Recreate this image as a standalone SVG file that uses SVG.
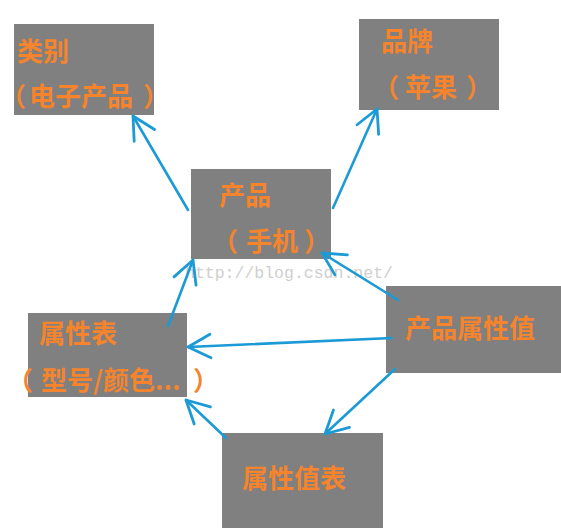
<svg xmlns="http://www.w3.org/2000/svg" width="561" height="528" viewBox="0 0 561 528">
<style>
.box{fill:#808080}
.t{font-family:"Noto Sans CJK SC","Microsoft YaHei",sans-serif;font-weight:bold;font-size:26px;fill:#f5842c}
.c{stroke:#1b9ad6;stroke-width:2.6;fill:none;stroke-linecap:round}
.wm{font-family:"Liberation Mono",monospace;font-size:16.5px;fill:#c4c4c4;opacity:0.8}
</style>
<defs>
<marker id="ah" markerUnits="userSpaceOnUse" orient="auto" refX="0" refY="0" markerWidth="30" markerHeight="30" viewBox="-24 -14 28 28" overflow="visible">
<path d="M-21,-11 L0,0 L-21,11" fill="none" stroke="#1b9ad6" stroke-width="2.6" stroke-linecap="round" stroke-linejoin="round"/>
</marker>
</defs>
<rect width="561" height="528" fill="#fff"/>
<g id="category">
<rect class="box" x="14" y="24" width="140" height="91"/>
<text class="t" x="17" y="61">类别</text>
<text class="t" y="106"><tspan x="0">（</tspan><tspan x="29">电子产品</tspan><tspan x="143">）</tspan></text>
</g>
<g id="brand">
<rect class="box" x="359" y="19" width="140" height="91"/>
<text class="t" x="381" y="51">品牌</text>
<text class="t" y="97"><tspan x="373">（</tspan><tspan x="405">苹果</tspan><tspan x="466">）</tspan></text>
</g>
<g id="product">
<rect class="box" x="191" y="169" width="140" height="90"/>
<text class="t" x="219" y="205">产品</text>
<text class="t" y="251"><tspan x="212">（</tspan><tspan x="246">手机</tspan><tspan x="304">）</tspan></text>
</g>
<g id="attr-table">
<rect class="box" x="28" y="313" width="159" height="84"/>
<text class="t" x="39" y="343">属性表</text>
<text class="t" y="390"><tspan x="7">（</tspan><tspan x="41">型号/颜色...</tspan><tspan x="193">）</tspan></text>
</g>
<g id="product-attr-value">
<rect class="box" x="386" y="286" width="175" height="87"/>
<text class="t" x="405" y="338">产品属性值</text>
</g>
<g id="attr-value-table">
<rect class="box" x="222" y="433" width="161" height="95"/>
<text class="t" x="242" y="488">属性值表</text>
</g>
<text class="wm" x="185" y="278">http://blog.csdn.net/</text>
<g id="connectors">
<line class="c" x1="188" y1="210" x2="133" y2="116" marker-end="url(#ah)"/>
<line class="c" x1="333" y1="208" x2="377" y2="109" marker-end="url(#ah)"/>
<line class="c" x1="168" y1="326" x2="193" y2="260" marker-end="url(#ah)"/>
<line class="c" x1="398" y1="300" x2="322" y2="253" marker-end="url(#ah)"/>
<line class="c" x1="392" y1="338" x2="188" y2="347" marker-end="url(#ah)"/>
<line class="c" x1="395" y1="369" x2="325" y2="434" marker-end="url(#ah)"/>
<line class="c" x1="226" y1="438" x2="186" y2="400" marker-end="url(#ah)"/>
</g>
</svg>
